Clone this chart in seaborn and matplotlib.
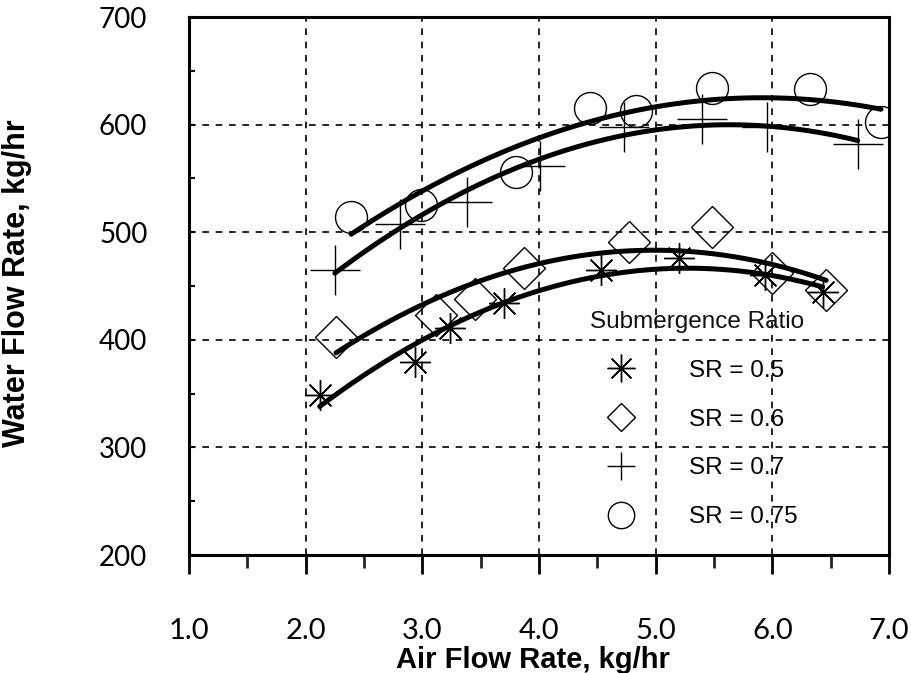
import numpy as np
import matplotlib
matplotlib.use("Agg")
import matplotlib.pyplot as plt
from matplotlib.lines import Line2D
from matplotlib.ticker import MultipleLocator
import seaborn as sns

# values
sr05_air = [2.12, 2.94, 3.24, 3.70, 4.53, 5.20, 5.94, 6.43]
sr05_water = [349, 379, 411, 434, 465, 476, 460, 444]

sr06_air = [2.26, 3.12, 3.45, 3.87, 4.77, 5.48, 6.00, 6.46]
sr06_water = [403, 423, 438, 467, 491, 505, 462, 446]

sr07_air = [2.25, 2.81, 3.38, 4.01, 4.73, 5.40, 5.95, 6.73]
sr07_water = [465, 508, 528, 562, 598, 605, 598, 582]

sr075_air = [2.39, 2.99, 3.80, 4.44, 4.83, 5.48, 6.32, 6.93]
sr075_water = [514, 525, 556, 615, 613, 634, 633, 602]

labels = ["SR = 0.5", "SR = 0.6", "SR = 0.7", "SR = 0.75"]
x_ticks = [1.0, 2.0, 3.0, 4.0, 5.0, 6.0, 7.0]
y_ticks = [200, 300, 400, 500, 600, 700]

sns.set_style("white")
plt.rcParams["font.family"] = ["Liberation Sans", "DejaVu Sans"]
plt.rcParams["text.color"] = "black"

fig = plt.figure(figsize=(9.11, 6.73), dpi=100)
ax = fig.add_axes([0.2075, 0.1753, 0.7685, 0.7994])

# marker, plot size, legend size
styles = [((8, 2, 0), 22, 20), ("D", 21, 14), ("+", 36, 20), ("o", 23, 19)]
series = [(sr05_air, sr05_water), (sr06_air, sr06_water),
          (sr07_air, sr07_water), (sr075_air, sr075_water)]

handles = []
for (x, y), (marker, ms, lms), label in zip(series, styles, labels):
    # second order fit like the original curves
    sns.regplot(x=np.array(x), y=np.array(y), order=2, ci=None, scatter=False,
                ax=ax, line_kws=dict(color="black", lw=3.6))
    ax.plot(x, y, linestyle="none", marker=marker, ms=ms, mfc="none",
            mec="black", mew=1.0)
    handles.append(Line2D([], [], linestyle="none", marker=marker, ms=lms,
                          mfc="none", mec="black", mew=1.0, label=label))

ax.set_xlim(1.0, 7.0)
ax.set_ylim(200, 700)
ax.set_xticks(x_ticks)
ax.set_xticklabels([f"{v:.1f}" for v in x_ticks])
ax.set_yticks(y_ticks)
ax.xaxis.set_minor_locator(MultipleLocator(0.5))
ax.yaxis.set_minor_locator(MultipleLocator(50))

ax.grid(True, which="major", color="black", linestyle=(0, (4, 4)), lw=1.2)
ax.set_axisbelow(True)
for sp in ax.spines.values():
    sp.set_linewidth(2.2)
    sp.set_color("black")

ax.tick_params(axis="x", which="major", direction="out", length=14, width=2,
               pad=31, labelsize=21, colors="black", bottom=True)
ax.tick_params(axis="x", which="minor", direction="out", length=9, width=2,
               bottom=True)
ax.tick_params(axis="y", which="both", direction="in", length=4, width=1.5,
               left=True, pad=30, labelsize=20, colors="black")
for t in ax.get_xticklabels() + ax.get_yticklabels():
    t.set_fontfamily(["Lato", "DejaVu Sans"])
    t.set_fontweight("normal")
ax.set_xlabel("")
ax.set_ylabel("")

leg = ax.legend(handles=handles, title="Submergence Ratio", loc="upper left",
                bbox_to_anchor=(578 / 911, 1 - 299 / 673),
                bbox_transform=fig.transFigure, frameon=False, fontsize=17.5,
                title_fontsize=17.5, borderpad=0.5, borderaxespad=0,
                handlelength=2.0, handletextpad=1.8, labelspacing=1.1)
leg.get_title().set_color("#111111")
for t in leg.get_texts():
    t.set_color("black")

fig.text(533 / 911, 1 - 668 / 673, "Air Flow Rate, kg/hr", ha="center",
         va="baseline", fontsize=21, fontweight="bold", color="black")
fig.text(17 / 911, 1 - 283 / 673, "Water Flow Rate, kg/hr", rotation=90,
         ha="center", va="center", fontsize=22, fontweight="bold",
         color="black")

fig.savefig("out.png", dpi=100)
